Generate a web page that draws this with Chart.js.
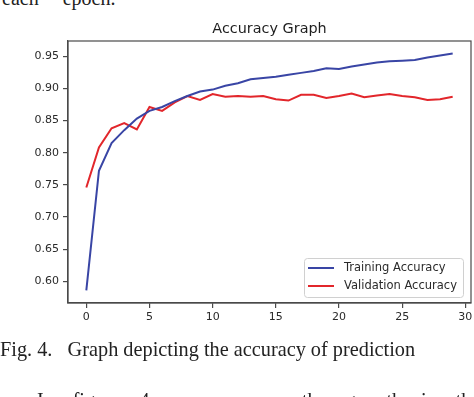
<!DOCTYPE html>
<html>
<head>
<meta charset="utf-8">
<script src="https://cdn.jsdelivr.net/npm/chart.js@4.4.1/dist/chart.umd.min.js"></script>
<style>
  html, body { margin: 0; padding: 0; background: #fff; }
  body { width: 474px; height: 397px; overflow: hidden; position: relative; }
  #wrap { position: absolute; left: 0; top: 0; width: 490px; height: 397px; }
  .serif { position: absolute; font-family: "Liberation Serif", "DejaVu Serif", serif; font-size: 20px; color: #222; white-space: nowrap; }
</style>
</head>
<body>
<div class="serif" style="left:2px; top:-13px; word-spacing:19px;">each epoch.</div>
<div id="wrap"><canvas id="accChart" width="490" height="397"></canvas></div>
<div class="serif" style="left:0px; top:338px; font-size:20.3px;">Fig. 4.&nbsp;&nbsp;&nbsp;Graph depicting the accuracy of prediction</div>
<div class="serif" style="left:37px; top:389px; word-spacing:14px;">In figure 4 we can see the growth in the</div>
<script>
// values
let epochs = [0,1,2,3,4,5,6,7,8,9,10,11,12,13,14,15,16,17,18,19,20,21,22,23,24,25,26,27,28,29];
let trainAcc = [0.586, 0.772, 0.815, 0.835, 0.853, 0.865, 0.871, 0.880, 0.888, 0.895, 0.898, 0.904, 0.908, 0.914, 0.916, 0.918, 0.921, 0.924, 0.927, 0.931, 0.930, 0.934, 0.937, 0.940, 0.942, 0.943, 0.944, 0.948, 0.951, 0.954];
let valAcc = [0.746, 0.808, 0.838, 0.846, 0.836, 0.871, 0.865, 0.878, 0.888, 0.882, 0.891, 0.887, 0.888, 0.887, 0.888, 0.883, 0.881, 0.890, 0.890, 0.885, 0.888, 0.892, 0.886, 0.889, 0.891, 0.888, 0.886, 0.882, 0.883, 0.887];
let xTicks = [0, 5, 10, 15, 20, 25, 30];
let yTicks = [0.60, 0.65, 0.70, 0.75, 0.80, 0.85, 0.90, 0.95];
let chartTitle = 'Accuracy Graph';

const axisColor = '#4a4a4a';
const textColor = '#2a2a2a';
const font = { family: 'DejaVu Sans', size: 11 };

// box around the plot and title centred over it, like matplotlib
const frame = {
  id: 'frame',
  afterDatasetsDraw(chart) {
    const a = chart.chartArea, ctx = chart.ctx;
    ctx.save();
    ctx.strokeStyle = axisColor;
    ctx.lineWidth = 1.2;
    ctx.strokeRect(a.left, a.top, a.right - a.left, a.bottom - a.top);
    ctx.fillStyle = '#1e1e1e';
    ctx.font = '14.4px "DejaVu Sans"';
    ctx.textAlign = 'center';
    ctx.textBaseline = 'middle';
    ctx.fillText(chartTitle, (a.left + a.right) / 2, a.top - 12);
    ctx.restore();
  }
};

// legend drawn inside the plot, lower right
const innerLegend = {
  id: 'innerLegend',
  afterDraw(chart) {
    const ctx = chart.ctx;
    const a = chart.chartArea;
    const w = 159, h = 39;
    const x = a.right - 8 - w, y = a.bottom - 6 - h;
    ctx.save();
    ctx.fillStyle = 'rgba(255,255,255,0.85)';
    ctx.strokeStyle = '#d0d0d0';
    ctx.lineWidth = 1;
    ctx.beginPath();
    ctx.roundRect(x + 0.5, y + 0.5, w, h, 3);
    ctx.fill();
    ctx.stroke();
    ctx.font = '11.5px "DejaVu Sans"';
    ctx.textBaseline = 'middle';
    chart.data.datasets.forEach((ds, i) => {
      const ly = y + 10 + i * 18;
      ctx.strokeStyle = ds.borderColor;
      ctx.lineWidth = 2;
      ctx.beginPath();
      ctx.moveTo(x + 4, ly);
      ctx.lineTo(x + 30, ly);
      ctx.stroke();
      ctx.fillStyle = textColor;
      ctx.fillText(ds.label, x + 40, ly);
    });
    ctx.restore();
  }
};

new Chart(document.getElementById('accChart'), {
  type: 'line',
  data: {
    datasets: [
      {
        label: 'Training Accuracy',
        data: epochs.map((e, i) => ({ x: e, y: trainAcc[i] })),
        borderColor: '#3945a5',
        borderWidth: 2,
        pointRadius: 0,
        tension: 0,
        fill: false
      },
      {
        label: 'Validation Accuracy',
        data: epochs.map((e, i) => ({ x: e, y: valAcc[i] })),
        borderColor: '#e2262b',
        borderWidth: 2,
        pointRadius: 0,
        tension: 0,
        fill: false
      }
    ]
  },
  options: {
    responsive: false,
    animation: false,
    layout: { padding: { left: 0, right: 19, top: 41, bottom: 72 } },
    scales: {
      x: {
        type: 'linear',
        min: -1.45,
        max: 30.45,
        afterBuildTicks: s => { s.ticks = xTicks.map(v => ({ value: v })); },
        afterFit: s => { s.height = 22; },
        grid: { drawOnChartArea: false, drawTicks: true, tickLength: 5, color: axisColor, lineWidth: 1.2 },
        border: { display: true, color: axisColor, width: 1.2 },
        ticks: { color: textColor, font: font, padding: 3, maxRotation: 0 }
      },
      y: {
        min: 0.5665,
        max: 0.9735,
        afterBuildTicks: s => { s.ticks = yTicks.map(v => ({ value: v })); },
        afterFit: s => { s.width = 68; },
        grid: { drawOnChartArea: false, drawTicks: true, tickLength: 5, color: axisColor, lineWidth: 1.2 },
        border: { display: true, color: axisColor, width: 1.2 },
        ticks: { color: textColor, font: font, padding: 4, callback: v => v.toFixed(2) }
      }
    },
    plugins: {
      title: { display: false },
      legend: { display: false },
      tooltip: { enabled: false }
    }
  },
  plugins: [frame, innerLegend]
});
</script>
</body>
</html>
